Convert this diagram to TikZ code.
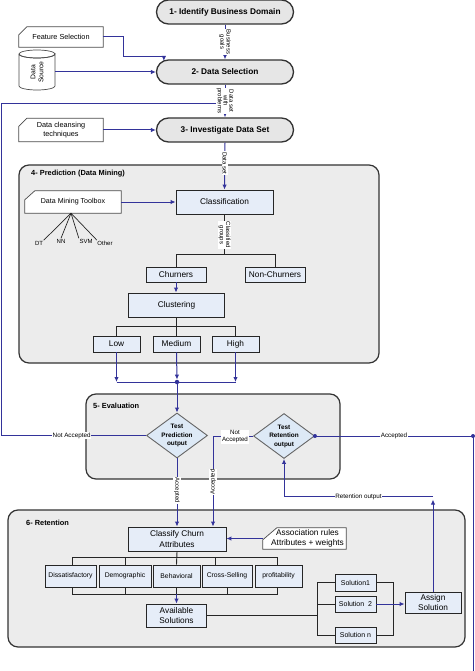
\documentclass[tikz,border=0pt]{standalone}
\usepackage{fontspec}
\setmainfont{Liberation Sans}
\usetikzlibrary{arrows.meta,shapes.misc,shapes.geometric,calc}
\definecolor{navy}{HTML}{33339A}
\definecolor{boxblue}{HTML}{E6EDF8}
\definecolor{diafill}{HTML}{DDE9F6}
\definecolor{panelgrey}{HTML}{ECECEC}
\definecolor{stagegrey}{HTML}{E6E6E6}
\pgfdeclarelayer{back}
\pgfdeclarelayer{mid}
\pgfsetlayers{back,mid,main}
\newcommand\cardfr[3]{\begin{pgfonlayer}{mid}\filldraw[cardline] (#1.south west) -- ($(#1.north west)+(0,#3)$) -- ($(#1.north west)+(#2,0)$) -- (#1.north east) -- (#1.south east) -- cycle;\end{pgfonlayer}}
\begin{document}
\begin{tikzpicture}[x=1pt,y=-1pt,
  stage/.style={rounded rectangle, draw=black!80, line width=1.3pt, fill=stagegrey, minimum width=137pt, minimum height=24pt, inner sep=0pt, font=\fontsize{8.3}{9}\selectfont\bfseries},
  panel/.style={draw=black!80, line width=1.2pt, fill=panelgrey, rounded corners=10pt},
  ptitle/.style={anchor=west, inner sep=0pt, font=\fontsize{7.4}{8}\selectfont\bfseries},
  bbox/.style={draw=black!85, line width=0.9pt, fill=boxblue, inner sep=0pt, align=center, font=\fontsize{8.3}{10}\selectfont},
  sbox/.style={bbox, font=\fontsize{6.8}{8}\selectfont},
  cardtext/.style={inner sep=0pt, align=center},
  cardline/.style={draw=black!70, line width=0.7pt, fill=white},
  conn/.style={draw=navy, line width=1pt},
  arr/.style={conn, -{Latex[length=5pt,width=4.5pt]}},
  tree/.style={draw=black!85, line width=0.9pt},
  lbl/.style={font=\fontsize{6.3}{7}\selectfont, inner sep=0.8pt, fill=white, align=center},
  rlbl/.style={lbl, rotate=-90, font=\fontsize{6}{6.4}\selectfont},
  dia/.style={diamond, draw=black!60, line width=0.9pt, fill=diafill, minimum width=61pt, minimum height=45pt, inner sep=0pt},
  dtext/.style={font=\fontsize{6.4}{8.5}\selectfont\bfseries, align=center, inner sep=0pt},
  tiny/.style={font=\fontsize{6}{6}\selectfont, inner sep=0.5pt},
  dot/.style={circle, fill=navy, inner sep=0pt, minimum size=4.5pt}
]
\useasboundingbox (0,0) rectangle (474,671);
\begin{pgfonlayer}{back}
\fill[white] (0,0) rectangle (474,671);
\draw[panel] (19,165) rectangle (379,363);
\draw[panel] (86,394) rectangle (340,479);
\draw[panel] (8,510) rectangle (465,647);
\end{pgfonlayer}

% titles
\node[ptitle] (t4) at (31,174) {4- Prediction (Data Mining)};
\node[ptitle] (t5) at (93,406) {5- Evaluation};
\node[ptitle] (t6) at (26,523) {6- Retention};

% stages
\node[stage] (s1) at (225,12) {1- Identify Business Domain};
\node[stage] (s2) at (225,72) {2- Data Selection};
\node[stage] (s3) at (225,130) {3- Investigate Data Set};

% cards
\node[cardtext, minimum width=84pt, minimum height=20pt, font=\fontsize{7.3}{8.5}\selectfont] (fs) at (61,37) {Feature Selection};
\cardfr{fs}{8}{8}
\node[cardtext, minimum width=84pt, minimum height=23pt, font=\fontsize{7.3}{8.8}\selectfont] (dc) at (61,130) {Data cleansing\\techniques};
\cardfr{dc}{8}{8}
\node[cardtext, minimum width=96pt, minimum height=22pt, font=\fontsize{7.1}{8.5}\selectfont] (tb) at (73,202) {Data Mining Toolbox};
\cardfr{tb}{10}{9}
\node[cardtext, minimum width=83pt, minimum height=21pt, font=\fontsize{8.3}{10}\selectfont] (ar) at (304.5,538.5) {\hspace*{6pt}Association rules\\\hspace*{6pt}Attributes + weights};
\cardfr{ar}{14}{12}

% cylinder
\filldraw[cardline] (19,54) -- (19,86) arc[start angle=180, end angle=0, x radius=18, y radius=4] -- (55,54) arc[start angle=0, end angle=180, x radius=18, y radius=4];
\draw[cardline, fill=none] (37,54) ellipse[x radius=18, y radius=4];
\node[inner sep=0pt, minimum width=36pt, minimum height=40pt] (ds) at (37,72) {};
\node[rotate=90, align=center, inner sep=0pt, font=\fontsize{6.8}{8}\selectfont] (dst) at (37,72) {Data\\Source};

% prediction nodes
\node[bbox, minimum width=97pt, minimum height=24pt] (cls) at (224.5,202) {Classification};
\node[bbox, minimum width=60pt, minimum height=15pt] (ch) at (176,274.5) {Churners};
\node[bbox, minimum width=60pt, minimum height=15pt] (nch) at (275,274.5) {Non-Churners};
\node[bbox, minimum width=96pt, minimum height=24pt] (clu) at (176.5,305) {Clustering};
\node[bbox, minimum width=47pt, minimum height=16pt] (low) at (116.5,344) {Low};
\node[bbox, minimum width=47pt, minimum height=16pt] (med) at (176.5,344) {Medium};
\node[bbox, minimum width=47pt, minimum height=16pt] (high) at (235.5,344) {High};
\node[tiny] (dt) at (39,243) {DT};
\node[tiny] (nn) at (61,241) {NN};
\node[tiny] (svm) at (86,241) {SVM};
\node[tiny] (oth) at (105,243) {Other};

% evaluation nodes
\node[dia] (tp) at (177,435.5) {};
\node[dtext] (tpt) at (tp.center) {Test\\Prediction\\output};
\node[dia] (tr) at (284,436) {};
\node[dtext] (trt) at (tr.center) {Test\\Retention\\output};

% retention nodes
\node[bbox, minimum width=98pt, minimum height=24pt, font=\fontsize{8.3}{11}\selectfont] (cca) at (177,539) {Classify Churn\\Attributes};
\node[sbox, minimum width=51pt, minimum height=22pt] (dis) at (70.5,576) {Dissatisfactory};
\node[sbox, minimum width=52pt, minimum height=22pt] (dem) at (125,576) {Demographic};
\node[sbox, minimum width=47pt, minimum height=22pt] (beh) at (176.5,576) {Behavioral};
\node[sbox, minimum width=50pt, minimum height=22pt] (cs) at (227,576) {Cross-Selling};
\node[sbox, minimum width=47pt, minimum height=22pt] (pr) at (278.5,576) {profitability};
\node[bbox, minimum width=60pt, minimum height=23pt, font=\fontsize{8.3}{10.5}\selectfont] (av) at (176.5,615.5) {Available\\Solutions};
\node[sbox, minimum width=41pt, minimum height=17pt, font=\fontsize{7}{8}\selectfont] (so1) at (355.5,582.5) {Solution1};
\node[sbox, minimum width=41pt, minimum height=16pt, font=\fontsize{7}{8}\selectfont] (so2) at (355.5,604) {Solution\ \ 2};
\node[sbox, minimum width=41pt, minimum height=16pt, font=\fontsize{7}{8}\selectfont] (son) at (355.5,635) {Solution n};
\node[bbox, minimum width=56pt, minimum height=21pt, font=\fontsize{8.3}{10}\selectfont] (as) at (433,602.5) {Assign\\Solution};

% ---- connectors top
\coordinate (lp) at (225,104);
\draw[conn] (tp.west) -- node[lbl, pos=0.515] {Not Accepted} ++(-144.5,0) |- (lp);
\draw[arr] (s1.south) -- node[rlbl, midway] {Business\\goals} (s2.north);
\draw[arr] (s2.south) -- node[rlbl, midway, font=\fontsize{6}{5.8}\selectfont] {Data set\\with\\problems} (s3.north);
\draw[arr] (s3.south) -- node[rlbl, pos=0.44] {Data set} (cls.north);
\draw[arr] (fs.east) -- ++(20,0) -- ++(0,20) -| ($(s2.west)+(8,-11)$);
\draw[arr] (ds.east) -- (s2.west);
\draw[arr] (dc.east) -- (s3.west);

% prediction connectors
\draw[arr] (tb.east) -- (cls.west);
\coordinate (fan) at ($(tb.south)+(-2,0)$);
\draw[tree, line width=0.7pt] (fan) -- (dt.north east);
\draw[tree, line width=0.7pt] (fan) -- (nn.north);
\draw[tree, line width=0.7pt] (fan) -- (svm.north west);
\draw[tree, line width=0.7pt] (fan) -- (oth.north west);
\draw[tree] (cls.south) -- node[rlbl, midway] {Classified\\groups} ++(0,41);
\draw[tree] (ch.north) -- ++(0,-12) -| (nch.north);
\draw[arr] (ch.south) -- (ch.south |- clu.north);
\draw[tree] (clu.south) -- (med.north);
\draw[tree] (low.north) -- ++(0,-9) -| (high.north);
\node[dot] (jn) at (177,382) {};
\draw[arr] (low.south) -- (low.south |- jn);
\draw[arr] (high.south) -- (high.south |- jn);
\draw[conn] (low.south |- jn) -- (high.south |- jn);
\draw[arr] (med.south) -- (jn.north);
\draw[arr] (jn) -- (tp.north);

% evaluation connectors
\draw[arr] (tp.south) -- node[rlbl, pos=0.47] {Accepted} (tp.south |- cca.north);
\coordinate (na) at ($(cca.north)+(36,0)$);
\draw[arr] (tr.west) -| (na);
\node[lbl, font=\fontsize{6.2}{7}\selectfont] (nal) at (235,437) {Not\\Accepted};
\node[lbl, rotate=90, font=\fontsize{6}{6}\selectfont] (acl) at (213,482) {Accepted};
\coordinate (rc) at (473,436);
\coordinate (rb) at (473,673);
\draw[conn] (tr.east) -- node[lbl, pos=0.5] {Accepted} (rc) -- (rb);
\node[dot, minimum size=4pt] (d1) at (tr.east) {};
\node[dot, minimum size=4pt] (d2) at (rc) {};
\draw[arr] (as.north) -- ++(0,-92);
\draw[arr] ($(as.north)+(0,-95)$) -| node[lbl, pos=0.25] {Retention output} (tr.south);

% retention connectors
\draw[arr] (ar.west) -- (ar.west -| cca.east);
\draw[tree] (cca.south) -- (beh.north);
\draw[tree] ($(dis.north)+(1.5,0)$) -- ++(0,-7) -| ($(pr.north)+(-1.5,0)$);
\draw[tree] (dem.north) -- ++(0,-7);
\draw[tree] ($(cs.north)+(-12,0)$) -- ++(0,-7);
\draw[tree] ($(dis.south)+(1.5,0)$) -- ++(0,7) -| ($(pr.south)+(-1.5,0)$);
\draw[tree] (dem.south) -- ++(0,7);
\draw[tree] (cs.south) -- ++(0,7);
\draw[tree] (beh.south) -- ++(0,7) coordinate (bj);
\draw[arr] (bj) -- (bj |- av.north);
\coordinate (bl) at ($(so1.west)+(-17,0)$);
\draw[tree] (so1.west) -- (bl) |- (son.west);
\draw[tree] (so2.west) -- (so2.west -| bl);
\draw[tree] (av.east) -- (av.east -| bl);
\draw[tree] (so1.east) -- ++(17,0) |- (son.east);
\draw[arr] (so2.east) -- (so2.east -| as.west);
\end{tikzpicture}
\end{document}
